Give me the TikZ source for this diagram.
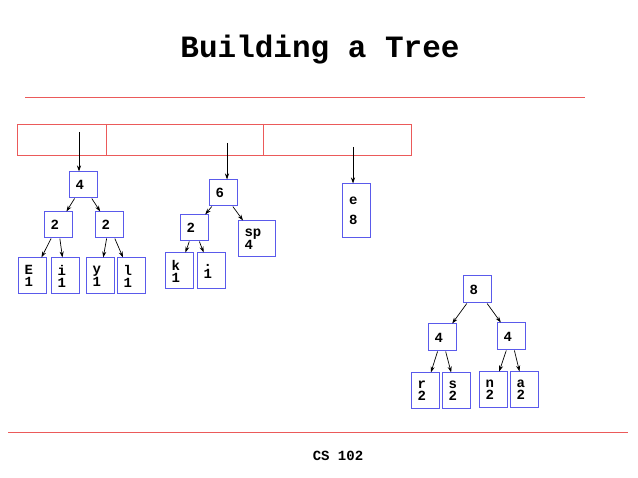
\documentclass[tikz,border=0pt]{standalone}
\usepackage{fontspec}
\setmonofont{Liberation Mono}
\usetikzlibrary{arrows.meta}
\definecolor{boxblue}{RGB}{90,90,235}
\definecolor{redl}{RGB}{235,90,90}
\tikzset{
  box/.style={draw=boxblue, line width=1pt, fill=white, minimum width=28pt, text width=15pt, align=left, inner sep=0pt, font=\ttfamily\bfseries\fontsize{14}{12}\selectfont},
  arr/.style={-{Stealth[length=6pt,width=4pt]}, line width=0.7pt},
  redline/.style={draw=redl, line width=0.8pt}
}
\begin{document}
\begin{tikzpicture}[x=1pt,y=-1pt]
\useasboundingbox (0,0) rectangle (638,478);
\node[font=\ttfamily\bfseries\fontsize{31}{32}\selectfont] (title) at (320,50) {Building a Tree};
\draw[redline] (25,97) -- (585,97);
\draw[redline] (8,432) -- (628,432);
\node[font=\ttfamily\bfseries\fontsize{14}{14}\selectfont] (cs) at (338,456) {CS 102};
% array
\draw[redline] (17,124) rectangle (411,155);
\draw[redline] (106,124) -- (106,155);
\draw[redline] (263,124) -- (263,155);
\coordinate (p1) at (79,132);
\coordinate (p2) at (227,143);
\coordinate (p3) at (353,147);
% tree 1
\node[box, minimum height=26pt] (a) at (83,185) {4};
\node[box, minimum height=26pt] (b) at (58,225) {2};
\node[box, minimum height=26pt] (c) at (109,225) {2};
\node[box, minimum height=36pt] (d) at (32,276) {E\\1};
\node[box, minimum height=36pt] (e) at (65,276) {i\\1};
\node[box, minimum height=36pt] (f) at (100,276) {y\\1};
\node[box, minimum height=36pt] (g) at (131,276) {l\\1};
% tree 2
\node[box, minimum height=26pt] (h) at (223,193) {6};
\node[box, minimum height=26pt] (k) at (194,228) {2};
\node[box, minimum height=36pt, minimum width=37pt, text width=24pt] (sp) at (256.5,239) {sp\\4};
\node[box, minimum height=36pt] (kk) at (179,271) {k\\1};
\node[box, minimum height=36pt] (dot) at (211,271) {.\\1};
% e
\node[box, minimum height=54pt, text width=14pt] (ee) at (356,211) {e\\[8pt]8};
% tree 3
\node[box, minimum height=27pt] (r8) at (477,289.5) {8};
\node[box, minimum height=27pt] (l4) at (442,337.5) {4};
\node[box, minimum height=27pt] (r4) at (511,336.5) {4};
\node[box, minimum height=36pt] (r) at (425,391) {r\\2};
\node[box, minimum height=36pt] (s) at (456,391) {s\\2};
\node[box, minimum height=36pt] (n) at (493,390) {n\\2};
\node[box, minimum height=36pt] (aa) at (524,390) {a\\2};
% arrows
\draw[arr] (p1) -- (a.north -| p1);
\draw[arr] (p2) -- (h.north -| p2);
\draw[arr] (p3) -- (ee.north -| p3);
\foreach \pa/\ch in {a/b,a/c,b/d,b/e,c/f,c/g,h/k,h/sp,k/kk,k/dot,r8/l4,r8/r4,l4/r,l4/s,r4/n,r4/aa}
  \draw[arr] (\pa) -- (\ch);
\end{tikzpicture}
\end{document}
